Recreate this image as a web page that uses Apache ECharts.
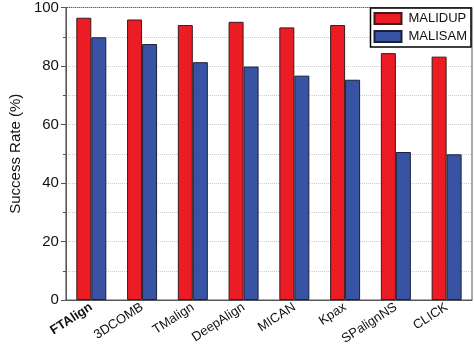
<!DOCTYPE html>
<html><head><meta charset="utf-8">
<script src="https://cdn.jsdelivr.net/npm/echarts@6/dist/echarts.min.js"></script>
<style>html,body{margin:0;padding:0;background:#fff}#c{width:474px;height:348px}</style>
</head><body><div id="c"></div>
<script>
var categories = ['FTAlign','3DCOMB','TMalign','DeepAlign','MICAN','Kpax','SPalignNS','CLICK'];
var malidup = [96.5, 95.9, 94.0, 95.1, 93.2, 94.0, 84.4, 83.2];
var malisam = [89.8, 87.5, 81.3, 79.8, 76.7, 75.3, 50.6, 49.8];
var yTicks = [0, 20, 40, 60, 80, 100];

var chart = echarts.init(document.getElementById('c'), null, {renderer: 'canvas'});
chart.setOption({
  animation: false,
  backgroundColor: '#fff',
  textStyle: {fontFamily: 'Liberation Sans, Arial, sans-serif'},
  grid: {left: 54, right: 2, top: 7, bottom: 48, show: true, borderColor: '#555', borderWidth: 1, containLabel: false},
  legend: {
    right: 3, top: 8, orient: 'vertical', itemGap: 5,
    itemWidth: 27, itemHeight: 11, icon: 'rect',
    backgroundColor: '#fff', borderColor: '#000', borderWidth: 1.5,
    padding: [4, 4, 4, 3],
    textStyle: {fontSize: 13, color: '#111', padding: [0, 0, 0, 2]},
    data: ['MALIDUP', 'MALISAM']
  },
  xAxis: {
    type: 'category', data: categories,
    axisLine: {lineStyle: {color: '#555', width: 1}},
    axisTick: {show: false},
    axisLabel: {
      rotate: 33, fontSize: 13, color: '#111', margin: 6, interval: 0,
      formatter: function (v) { return v === 'FTAlign' ? '{b|' + v + '}' : v; },
      rich: {b: {fontWeight: 'bold', fontSize: 13, color: '#111'}}
    }
  },
  yAxis: {
    type: 'value', min: 0, max: 100, interval: 20,
    name: 'Success Rate (%)', nameLocation: 'middle', nameGap: 39,
    nameTextStyle: {fontSize: 15, color: '#111'},
    axisLine: {show: true, lineStyle: {color: '#555', width: 1}},
    axisTick: {show: true, inside: false, length: 5, lineStyle: {color: '#555'}},
    minorTick: {show: true, splitNumber: 2, length: 3, lineStyle: {color: '#555'}},
    axisLabel: {fontSize: 15, color: '#111', margin: 7,
      formatter: function (v) { return yTicks.indexOf(v) >= 0 ? String(v) : ''; }},
    splitLine: {show: true, lineStyle: {color: '#ccc', type: 'dotted', width: 1}},
    minorSplitLine: {show: true, lineStyle: {color: '#ccc', type: 'dotted', width: 1}}
  },
  series: [
    {name: 'MALIDUP', type: 'bar', data: malidup, barWidth: 15, barGap: '0%',
     itemStyle: {color: '#ec1c24', borderColor: '#3a1a1a', borderWidth: 1}},
    {name: 'MALISAM', type: 'bar', data: malisam, barWidth: 15, barGap: '0%',
     itemStyle: {color: '#3953a4', borderColor: '#1a1f3a', borderWidth: 1}}
  ]
});
</script></body></html>
